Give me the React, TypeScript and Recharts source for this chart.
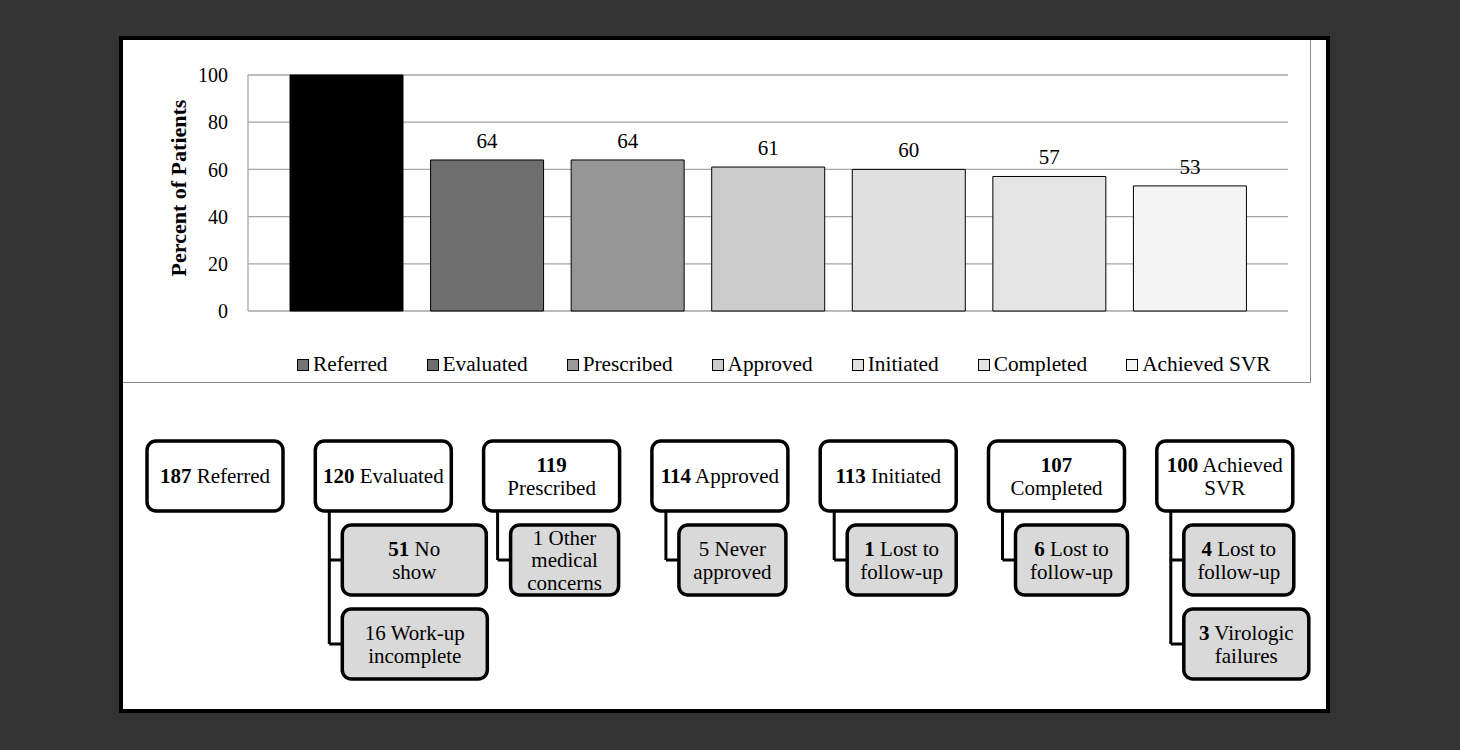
import React from 'react';
import { BarChart, Bar, XAxis, YAxis, CartesianGrid, Cell, LabelList } from 'recharts';

const FONT = '"Liberation Serif", "Times New Roman", serif';

// chart data
const stages = ['Referred', 'Evaluated', 'Prescribed', 'Approved', 'Initiated', 'Completed', 'Achieved SVR'];
const percents = [100, 64, 64, 61, 60, 57, 53];
const yTicks = [0, 20, 40, 60, 80, 100];
const barColors = ['#000000', '#6e6e6e', '#969696', '#cccccc', '#e0e0e0', '#e4e4e4', '#f4f4f4'];
const legendColors = ['#747474', '#6e6e6e', '#999999', '#cccccc', '#e0e0e0', '#e4e4e4', '#f4f4f4'];

// flow boxes under the chart
const counts = [187, 120, 119, 114, 113, 107, 100];
const boxText = [['Referred'], ['Evaluated'], ['', 'Prescribed'], ['Approved'], ['Initiated'], ['', 'Completed'], ['Achieved', 'SVR']];
const lossCounts = [[], [51, 16], [1], [5], [1], [6], [4, 3]];
const lossText = [
    [],
    [['No', 'show'], ['Work-up', 'incomplete']],
    [['Other', 'medical', 'concerns']],
    [['Never', 'approved']],
    [['Lost to', 'follow-up']],
    [['Lost to', 'follow-up']],
    [['Lost to', 'follow-up'], ['Virologic', 'failures']],
];
const lossBold = [[], [true, false], [false], [false], [true], [true], [true, true]];

// layout of the flow boxes (page px)
const BOX_X0 = 147;
const BOX_STEP = 168.3;
const BOX_W = 136;
const BOX_Y = 441;
const BOX_H = 70;
const SUB_Y = [525, 609];
const subWidths = [[], [144, 145], [108], [107], [109], [112], [110, 125]];

const data = stages.map((name, i) => ({ name, value: percents[i], label: i === 0 ? null : percents[i] }));

const renderValueLabel = (props: any) => {
    const { x, y, width, value } = props;
    if (value === null || value === undefined) return null;
    return (
        <text x={Number(x) + Number(width) / 2} y={Number(y) - 12} textAnchor="middle" fontSize={21} fontFamily={FONT} fill="#000">
            {value}
        </text>
    );
};

const renderYLabel = (props: any) => {
    const vb = props.viewBox || { x: 0, y: 35, width: 125, height: 236 };
    const cx = vb.x + 55.5;
    const cy = vb.y + vb.height / 2 - 5;
    return (
        <text
            x={cx}
            y={cy}
            transform={`rotate(-90, ${cx}, ${cy})`}
            textAnchor="middle"
            dominantBaseline="central"
            fontSize={22}
            fontWeight="bold"
            fontFamily={FONT}
            fill="#000"
        >
            Percent of Patients
        </text>
    );
};

function BoxLines({ cx, cy, lines, lineH }: { cx: number; cy: number; lines: { bold: string; text: string }[]; lineH: number }) {
    const n = lines.length;
    return (
        <>
            {lines.map((ln, i) => (
                <text
                    key={i}
                    x={cx}
                    y={cy - ((n - 1) * lineH) / 2 + i * lineH + 7}
                    textAnchor="middle"
                    fontSize={21}
                    fontFamily={FONT}
                    fill="#000"
                    style={{ whiteSpace: 'pre' }}
                >
                    {ln.bold ? <tspan fontWeight="bold">{ln.bold}</tspan> : null}
                    {ln.bold && ln.text ? ' ' + ln.text : ln.text}
                </text>
            ))}
        </>
    );
}

function FlowChart() {
    return (
        <svg width={1460} height={750} style={{ position: 'absolute', left: 0, top: 0 }}>
            {stages.map((s, i) => {
                const x0 = BOX_X0 + i * BOX_STEP;
                const mainLines = boxText[i].map((t, j) => ({ bold: j === 0 ? String(counts[i]) : '', text: t }));
                const subs = lossCounts[i];
                const lastMid = subs.length ? SUB_Y[subs.length - 1] + BOX_H / 2 : 0;
                const lineX = x0 + 14;
                return (
                    <g key={s}>
                        {subs.length > 0 && (
                            <path
                                d={`M${lineX},${BOX_Y + BOX_H} L${lineX},${lastMid} ` +
                                    subs.map((_, k) => `M${lineX},${SUB_Y[k] + BOX_H / 2} L${x0 + 27},${SUB_Y[k] + BOX_H / 2}`).join(' ')}
                                stroke="#000"
                                strokeWidth={3}
                                fill="none"
                            />
                        )}
                        <rect x={x0} y={BOX_Y} width={BOX_W} height={BOX_H} rx={9} fill="#fff" stroke="#000" strokeWidth={3.5} />
                        <BoxLines cx={x0 + BOX_W / 2} cy={BOX_Y + BOX_H / 2} lines={mainLines} lineH={23} />
                        {subs.map((c, k) => {
                            const w = subWidths[i][k];
                            const sx = x0 + 27;
                            const lines = lossText[i][k].map((t, j) => ({
                                bold: j === 0 && lossBold[i][k] ? String(c) : '',
                                text: j === 0 && !lossBold[i][k] ? `${c} ${t}` : t,
                            }));
                            return (
                                <g key={k}>
                                    <rect x={sx} y={SUB_Y[k]} width={w} height={BOX_H} rx={9} fill="#d9d9d9" stroke="#000" strokeWidth={3.5} />
                                    <BoxLines cx={sx + w / 2} cy={SUB_Y[k] + BOX_H / 2} lines={lines} lineH={lines.length > 2 ? 22.5 : 23} />
                                </g>
                            );
                        })}
                    </g>
                );
            })}
        </svg>
    );
}

export default function App() {
    return (
        <div style={{ position: 'fixed', left: 0, top: 0, width: 1460, height: 750, background: '#333333', overflow: 'hidden', fontFamily: FONT }}>
            <div
                style={{
                    position: 'absolute',
                    left: 119,
                    top: 36,
                    width: 1211,
                    height: 677,
                    boxSizing: 'border-box',
                    border: '4px solid #000',
                    background: '#fff',
                }}
            />
            <div
                style={{
                    position: 'absolute',
                    left: 123,
                    top: 40,
                    width: 1188,
                    height: 343,
                    boxSizing: 'border-box',
                    borderRight: '1.5px solid #8a8a8a',
                    borderBottom: '1.5px solid #8a8a8a',
                }}
            />
            <div style={{ position: 'absolute', left: 123, top: 40 }}>
                <BarChart width={1188} height={343} data={data} margin={{ top: 35, right: 23, bottom: 72, left: 0 }}>
                    <CartesianGrid vertical={false} stroke="#a6a6a6" strokeWidth={1.3} />
                    <XAxis dataKey="name" hide padding={{ left: 28, right: 28 }} />
                    <YAxis
                        width={125}
                        domain={[0, 100]}
                        ticks={yTicks}
                        tickLine={false}
                        tickSize={0}
                        tickMargin={20}
                        axisLine={{ stroke: '#a6a6a6', strokeWidth: 1.3 }}
                        tick={{ fill: '#000', fontSize: 20, fontFamily: FONT }}
                        label={{ content: renderYLabel }}
                    />
                    <Bar dataKey="value" barSize={113} stroke="#000" strokeWidth={1} isAnimationActive={false}>
                        {data.map((d, i) => (
                            <Cell key={d.name} fill={barColors[i]} />
                        ))}
                        <LabelList dataKey="label" content={renderValueLabel} />
                    </Bar>
                </BarChart>
            </div>
            <div
                style={{
                    position: 'absolute',
                    left: 297,
                    top: 352,
                    display: 'flex',
                    gap: 39,
                    fontSize: 21.3,
                    lineHeight: '24px',
                    color: '#000',
                    whiteSpace: 'nowrap',
                }}
            >
                {stages.map((s, i) => (
                    <div key={s} style={{ display: 'flex', alignItems: 'center' }}>
                        <span
                            style={{
                                display: 'inline-block',
                                width: 10,
                                height: 10,
                                border: '1px solid #000',
                                background: legendColors[i],
                                marginRight: 4,
                                marginTop: 1,
                            }}
                        />
                        <span>{s}</span>
                    </div>
                ))}
            </div>
            <FlowChart />
        </div>
    );
}
